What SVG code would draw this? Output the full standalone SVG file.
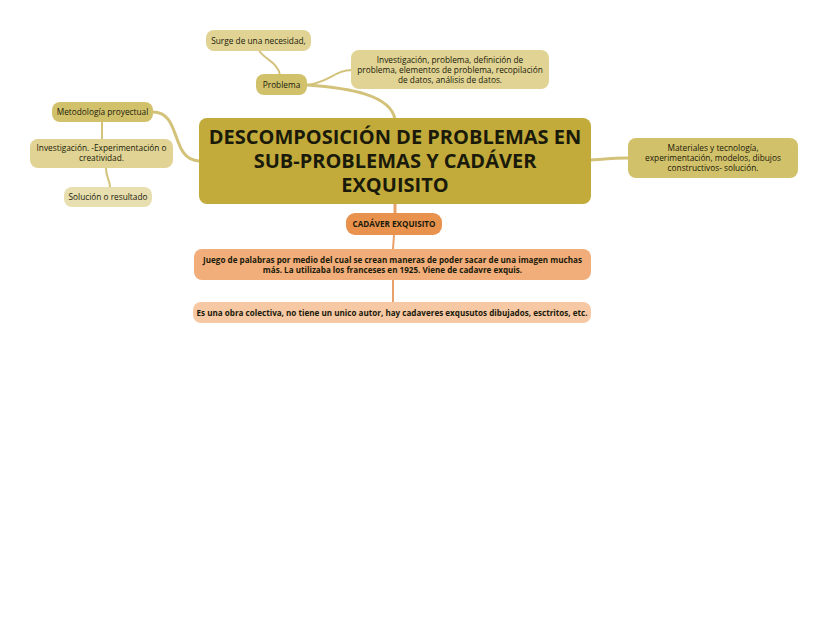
<svg xmlns="http://www.w3.org/2000/svg" width="829" height="640" viewBox="0 0 829 640">
<style>
text{font-family:"Open Sans","Noto Sans","Liberation Sans",sans-serif;fill:#1a1a0a;text-anchor:middle}
.s{font-size:8.3px}
.m{font-size:8.1px;font-weight:bold}
.c{fill:none;stroke-linecap:round}
.g{stroke:#d3c27a}
.o{stroke:#e8a06a}
</style>
<rect width="829" height="640" fill="#ffffff"/>
<g id="connectors">
<path class="c g" d="M307,85 C350,88 390,95 395,119" stroke-width="3"/>
<path class="c g" d="M280,75 C278,62 262,58 259,50" stroke-width="2"/>
<path class="c g" d="M307,85 C330,82 335,70 352,70" stroke-width="2"/>
<path class="c g" d="M199,161 C170,160 182,112 153,112" stroke-width="3"/>
<path class="c g" d="M102,122 L102,139" stroke-width="2"/>
<path class="c g" d="M106,168 C106,178 110,180 110,187" stroke-width="2"/>
<path class="c g" d="M591,160 C605,159 615,158 628,158" stroke-width="3"/>
<path class="c o" d="M395,204 L395,213" stroke-width="3"/>
<path class="c o" d="M394,235 L393,249" stroke-width="2"/>
<path class="c o" d="M393,280 L393,302" stroke-width="2"/>
</g>
<g id="central">
<rect x="199" y="118" width="392" height="86" rx="8" fill="#c2ab3b"/>
<text x="395" y="144" font-size="20" font-weight="bold">DESCOMPOSICIÓN DE PROBLEMAS EN</text>
<text x="395" y="168" font-size="20" font-weight="bold">SUB-PROBLEMAS Y CADÁVER</text>
<text x="395" y="192" font-size="20" font-weight="bold">EXQUISITO</text>
</g>
<g id="problema">
<rect x="256" y="74" width="51" height="21" rx="8" fill="#d2c16b"/>
<text class="s" x="281.5" y="87.5">Problema</text>
</g>
<g id="surge">
<rect x="206" y="30" width="105" height="21" rx="8" fill="#e0d394"/>
<text class="s" x="258.5" y="43.5">Surge de una necesidad,</text>
</g>
<g id="investigacion">
<rect x="351" y="50" width="198" height="39" rx="8" fill="#e0d394"/>
<text class="s" x="450" y="63">Investigación, problema, definición de</text>
<text class="s" x="450" y="73">problema, elementos de problema, recopilación</text>
<text class="s" x="450" y="83">de datos, análisis de datos.</text>
</g>
<g id="metodologia">
<rect x="52" y="102" width="101" height="20" rx="8" fill="#d2c16b"/>
<text class="s" x="102.5" y="115">Metodología proyectual</text>
</g>
<g id="experimentacion">
<rect x="30" y="139" width="143" height="29" rx="8" fill="#e0d394"/>
<text class="s" x="101.5" y="151">Investigación. -Experimentación o</text>
<text class="s" x="101.5" y="161">creatividad.</text>
</g>
<g id="solucion">
<rect x="64" y="187" width="88" height="20" rx="8" fill="#e8dfb0"/>
<text class="s" x="108" y="200">Solución o resultado</text>
</g>
<g id="materiales">
<rect x="628" y="138" width="170" height="40" rx="8" fill="#d2c16b"/>
<text class="s" x="713" y="151">Materiales y tecnología,</text>
<text class="s" x="713" y="161">experimentación, modelos, dibujos</text>
<text class="s" x="713" y="171">constructivos- solución.</text>
</g>
<g id="cadaver">
<rect x="346" y="213" width="96" height="22" rx="9" fill="#e8924e"/>
<text class="m" x="394" y="227">CADÁVER EXQUISITO</text>
</g>
<g id="juego">
<rect x="194" y="249" width="397" height="31" rx="8" fill="#f2ae7a"/>
<text class="m" x="392.5" y="262.5">Juego de palabras por medio del cual se crean maneras de poder sacar de una imagen muchas</text>
<text class="m" x="392.5" y="272.5">más. La utilizaba los franceses en 1925. Viene de cadavre exquis.</text>
</g>
<g id="obra">
<rect x="193" y="302" width="398" height="21" rx="8" fill="#f6c8a4"/>
<text class="m" x="392" y="315.5">Es una obra colectiva, no tiene un unico autor, hay cadaveres exqusutos dibujados, esctritos, etc.</text>
</g>
</svg>
